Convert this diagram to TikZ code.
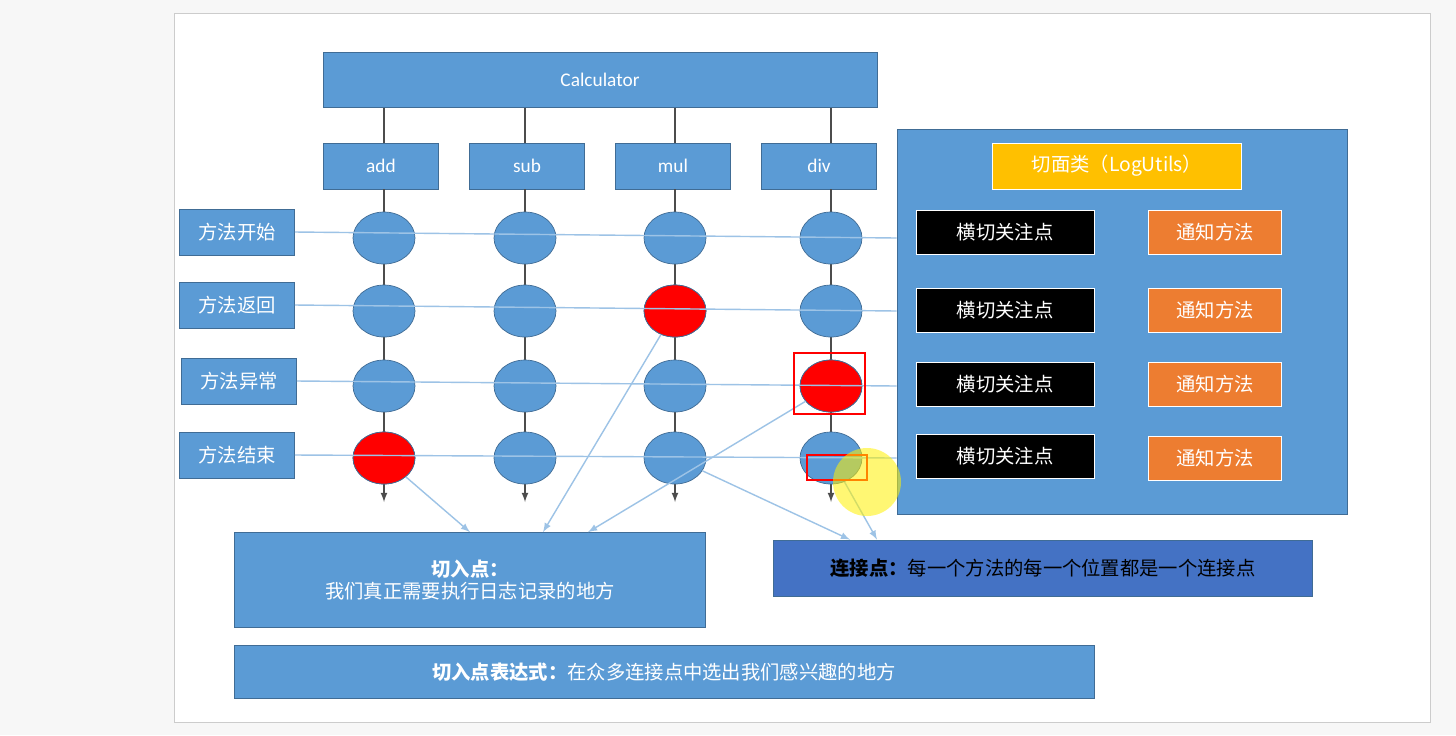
\documentclass[tikz,border=0pt]{standalone}
\usepackage{fontspec}
\setmainfont{Carlito}
\newfontfamily\cjk{Noto Sans CJK SC}
\usetikzlibrary{positioning}
\definecolor{boxblue}{HTML}{5B9BD5}
\definecolor{darkblue}{HTML}{4472C4}
\definecolor{orangebox}{HTML}{ED7D31}
\definecolor{goldbox}{HTML}{FFC000}
\definecolor{linkblue}{HTML}{9DC3E6}
\tikzset{
  blue box/.style={draw=boxblue!70!black, fill=boxblue, text=white, font=\cjk\fontsize{11}{13}\selectfont, inner sep=0pt},
  point/.style={ellipse, draw=boxblue!70!black, fill=boxblue, minimum width=1.24cm, minimum height=1.04cm, inner sep=0pt},
  hit/.style={point, fill=red},
  link/.style={linkblue, thick},
  pick/.style={link, -latex}
}
\usetikzlibrary{shapes.geometric}
\begin{document}
\begin{tikzpicture}[x=0.02cm, y=-0.02cm]
        \useasboundingbox (0,0) rectangle (1456,735);
        \fill[gray!6] (0,0) rectangle (1456,735);
        \draw[gray!40, fill=white] (174,13) rectangle (1430,722);
        % Class and methods
        \node (calc) at (600,80) [blue box, minimum width=11.08cm, minimum height=1.1cm, font=\fontsize{11}{13}\selectfont] {Calculator};
        \node (m1) at (381,166) [blue box, minimum width=2.3cm, minimum height=0.92cm, font=\fontsize{11}{13}\selectfont] {add};
        \node (m2) at (527,166) [blue box, minimum width=2.3cm, minimum height=0.92cm, font=\fontsize{11}{13}\selectfont] {sub};
        \node (m3) at (673,166) [blue box, minimum width=2.3cm, minimum height=0.92cm, font=\fontsize{11}{13}\selectfont] {mul};
        \node (m4) at (819,166) [blue box, minimum width=2.3cm, minimum height=0.92cm, font=\fontsize{11}{13}\selectfont] {div};
        % Row labels
        \node (r1) at (237,232) [blue box, minimum width=2.3cm, minimum height=0.92cm] {方法开始};
        \node (r2) at (237,305) [blue box, minimum width=2.3cm, minimum height=0.92cm] {方法返回};
        \node (r3) at (239,381) [blue box, minimum width=2.3cm, minimum height=0.92cm] {方法异常};
        \node (r4) at (237,455) [blue box, minimum width=2.3cm, minimum height=0.92cm] {方法结束};
        % Aspect panel
        \node (aspect) at (1122,322) [fill=boxblue, draw=boxblue!70!black, minimum width=9cm, minimum height=7.7cm] {};
        \node (title) at (1117,166) [blue box, fill=goldbox, draw=white, minimum width=4.98cm, minimum height=0.92cm] {切面类（LogUtils）};
        \node (p1) at (1005,232) [blue box, fill=black, draw=white, minimum width=3.56cm, minimum height=0.88cm] {横切关注点};
        \node (p2) at (1005,310) [blue box, fill=black, draw=white, minimum width=3.56cm, minimum height=0.88cm] {横切关注点};
        \node (p3) at (1005,384) [blue box, fill=black, draw=white, minimum width=3.56cm, minimum height=0.88cm] {横切关注点};
        \node (p4) at (1005,456) [blue box, fill=black, draw=white, minimum width=3.56cm, minimum height=0.88cm] {横切关注点};
        \node (a1) at (1215,232) [blue box, fill=orangebox, draw=white, minimum width=2.66cm, minimum height=0.88cm] {通知方法};
        \node (a2) at (1215,310) [blue box, fill=orangebox, draw=white, minimum width=2.66cm, minimum height=0.88cm] {通知方法};
        \node (a3) at (1215,384) [blue box, fill=orangebox, draw=white, minimum width=2.66cm, minimum height=0.88cm] {通知方法};
        \node (a4) at (1215,458) [blue box, fill=orangebox, draw=white, minimum width=2.66cm, minimum height=0.88cm] {通知方法};
        % Bottom notes
        \node (cut) at (470,580) [blue box, minimum width=9.42cm, minimum height=1.9cm, align=center] {\textbf{切入点：}\\我们真正需要执行日志记录的地方};
        \node (join) at (1043,568) [blue box, fill=darkblue, text=black, minimum width=10.78cm, minimum height=1.12cm] {\textbf{连接点：}每一个方法的每一个位置都是一个连接点};
        \node (expr) at (664,672) [blue box, minimum width=17.2cm, minimum height=1.06cm] {\textbf{切入点表达式：}在众多连接点中选出我们感兴趣的地方};
        % Ends of the method lines
        \foreach \c/\x in {1/384,2/525,3/675,4/831}
            \coordinate (d\c) at (\x,502);
        \coordinate (c1) at (384,108); \coordinate (c2) at (525,108);
        \coordinate (c3) at (675,108); \coordinate (c4) at (831,108);
        % Method lines
        \foreach \c in {1,2,3,4} {
            \draw[black!70, thick] (c\c) -- (c\c |- m\c.north);
            \draw[black!70, thick, -latex] (m\c.south -| c\c) -- (d\c);
        }
        % Join points
        \foreach \c/\x in {1/384,2/525,3/675,4/831}
            \foreach \r/\y in {1/238,2/311,3/386,4/458}
                \node (e\c\r) at (\x,\y) [point] {};
        \node at (e32) [hit] {};
        \node at (e43) [hit] {};
        \node at (e14) [hit] {};
        % Rows
        \foreach \r in {1,2,3,4}
            \draw[link] (r\r.east) -- (aspect.west |- e1\r);
        % Picked points
        \draw[pick] (e14) -- (cut.north);
        \draw[pick] (e32) -- ([xshift=1.46cm]cut.north);
        \draw[pick] (e43) -- ([xshift=2.36cm]cut.north);
        \draw[pick] (e34) -- ([xshift=-3.86cm]join.north);
        \draw[pick] (e44) -- ([xshift=-3.32cm]join.north);
        % Highlights
        \draw[red, very thick] (794,353) rectangle (865,414);
        \draw[red, very thick] (807,455) rectangle (867,480);
        \fill[yellow, opacity=0.55] (867,482) circle (34);
\end{tikzpicture}
\end{document}
